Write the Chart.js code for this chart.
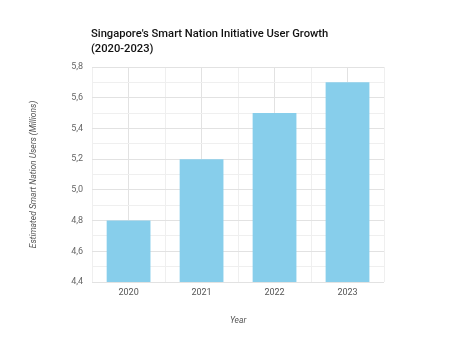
<!DOCTYPE html>
<html>
<head>
<meta charset="utf-8">
<script src="https://cdn.jsdelivr.net/npm/chart.js@4"></script>
<style>
  body { margin: 0; background: #fff; }
  #wrap { position: relative; width: 474px; height: 348px; }
  #title {
    position: absolute; left: 91px; top: 26px;
    font-family: Roboto, sans-serif; font-size: 11.2px; font-weight: 500;
    color: #111; line-height: 15px;
  }
</style>
</head>
<body>
<div id="wrap">
  <div id="title">Singapore's Smart Nation Initiative User Growth<br>(2020-2023)</div>
  <canvas id="chart" width="474" height="348"></canvas>
</div>
<script>
// values
var years = ["2020", "2021", "2022", "2023"];
var users = [4.8, 5.2, 5.5, 5.7];
var yMin = 4.4;
var yMax = 5.8;

var ctx = document.getElementById("chart").getContext("2d");
var chart = new Chart(ctx, {
  type: "bar",
  data: {
    labels: years,
    datasets: [
      {
        label: "Users",
        data: users,
        backgroundColor: "#87CEEB",
        borderWidth: 0,
        barPercentage: 0.6,
        categoryPercentage: 1,
        xAxisID: "x",
      },
    ],
  },
  options: {
    responsive: false,
    animation: false,
    layout: { padding: { left: 29, right: 90, top: 67, bottom: 22 } },
    plugins: {
      legend: { display: false },
      tooltip: { enabled: false },
    },
    scales: {
      x: {
        position: "bottom",
        grid: { offset: false, color: "#e2e2e2", drawTicks: false },
        border: { display: false },
        ticks: {
          color: "#555",
          padding: 5,
          font: { family: "Roboto", size: 9 },
        },
        title: {
          display: true,
          text: "Year",
          color: "#555",
          font: { family: "Roboto", size: 8.5, style: "italic" },
          padding: { top: 13, bottom: 0 },
        },
      },
      x2: {
        type: "category",
        labels: years,
        position: "bottom",
        grid: { offset: true, color: "#efefef", drawTicks: false },
        border: { display: false },
        ticks: { display: false },
      },
      y: {
        min: yMin,
        max: yMax,
        grid: {
          drawTicks: false,
          color: function (c) {
            return c.index % 2 === 0 ? "#e2e2e2" : "#efefef";
          },
        },
        border: { display: false },
        ticks: {
          stepSize: 0.1,
          color: "#666",
          padding: 9,
          font: { family: "Roboto", size: 9 },
          callback: function (v, i) {
            return i % 2 === 0 ? v.toFixed(1).replace(".", ",") : "";
          },
        },
        title: {
          display: true,
          text: "Estimated Smart Nation Users (Millions)",
          color: "#555",
          font: { family: "Roboto", size: 8.5, style: "italic" },
          padding: { top: 0, bottom: 23 },
        },
      },
    },
  },
});
</script>
</body>
</html>
